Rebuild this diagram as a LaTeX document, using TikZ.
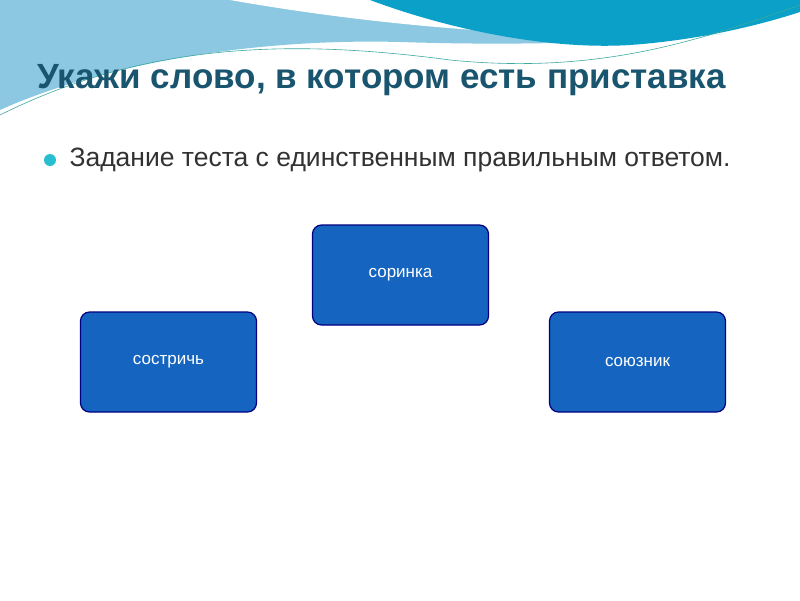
\documentclass[tikz,border=0pt]{standalone}
\usepackage{fontspec}
\setmainfont{Liberation Sans}
\definecolor{boxfill}{RGB}{21,101,192}
\definecolor{lightwave}{RGB}{140,200,225}
\definecolor{teal1}{RGB}{10,160,200}
\definecolor{waveline}{RGB}{60,170,160}
\definecolor{titlec}{RGB}{25,85,110}
\definecolor{subc}{RGB}{50,50,50}
\definecolor{bulletc}{RGB}{40,190,210}
\begin{document}
\begin{tikzpicture}[x=1pt,y=-1pt,
  box/.style={draw=blue!50!black,line width=1.2pt,fill=boxfill,rounded corners=9pt,minimum width=176pt,minimum height=100pt,text=white,font=\fontsize{17}{20}\selectfont}]
\useasboundingbox (0,0) rectangle (800,600);
\fill[white] (0,0) rectangle (800,600);
\fill[lightwave] (0,0) -- (0,110) .. controls (100,65) and (250,38) .. (400,42) .. controls (550,47) and (700,40) .. (800,25) -- (800,0) -- cycle;
\fill[white] (230,0) .. controls (400,30) and (600,45) .. (800,30) -- (800,0) -- cycle;
\fill[teal1] (370,0) .. controls (450,30) and (550,50) .. (630,45) .. controls (700,40) and (760,25) .. (800,12) -- (800,0) -- cycle;
\draw[waveline,line width=0.6pt] (0,115) .. controls (150,40) and (300,40) .. (450,60) .. controls (600,75) and (700,40) .. (800,5);
\node[anchor=west,font=\bfseries\fontsize{35}{38}\selectfont,text=titlec] (title) at (34,80) {Укажи слово, в котором есть приставка};
\fill[bulletc] (50,160) circle (6);
\node[anchor=west,font=\fontsize{26.5}{30}\selectfont,text=subc] (sub) at (66,160) {Задание теста с единственным правильным ответом.};
\node[box] (b1) at (400.5,275) {соринка};
\node[box] (b2) at (168.5,362) {состричь};
\node[box] (b3) at (637.5,362) {союзник};
\end{tikzpicture}
\end{document}
